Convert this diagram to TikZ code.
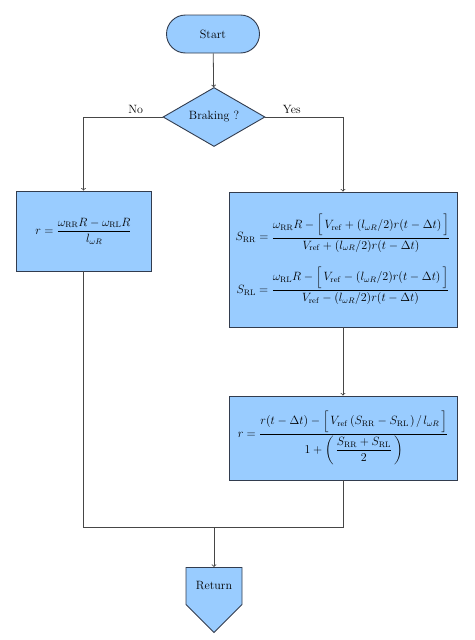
\documentclass[tikz,border=0pt]{standalone}
\usepackage{amsmath}
\usetikzlibrary{shapes.geometric,shapes.symbols}

\definecolor{boxfill}{RGB}{153,204,255}
\definecolor{boxline}{RGB}{50,60,78}
\definecolor{wire}{RGB}{70,70,70}

\tikzset{
    block/.style={draw=boxline, fill=boxfill, line width=0.9pt, align=center, inner sep=2pt},
    terminal/.style={block, rounded corners=19pt, minimum width=93pt, minimum height=38pt},
    decision/.style={block, diamond, aspect=1.75, minimum width=102pt, minimum height=59pt, inner sep=0pt},
    process/.style={block, rectangle},
    exit/.style={block, signal, signal to=south, signal pointer angle=90, minimum width=56pt, minimum height=56pt, inner sep=1pt},
    wire/.style={draw=wire, line width=0.8pt},
    flow/.style={wire, ->}
}

\begin{document}
\begin{tikzpicture}[x=1pt, y=-1pt, font=\fontsize{12}{14.4}\selectfont]
    \useasboundingbox (0,0) rectangle (474,640);

    % Start and the decision
    \node[terminal] (start) at (213,34) {Start};
    \node[decision] (brake) at (214,117) {Braking ?};

    % Left branch
    \node[process, minimum width=135pt, minimum height=80pt] (yaw) at (83.5,231)
        {$r = \dfrac{\omega_{\mathrm{RR}}R - \omega_{\mathrm{RL}}R}{l_{\omega R}}$};

    % Right branch: slip ratios
    \node[process, minimum width=228pt, minimum height=135pt] (slip) at (343,259.5)
        {$S_{\mathrm{RR}} = \dfrac{\omega_{\mathrm{RR}}R - \Bigl[\,V_{\mathrm{ref}} + (l_{\omega R}/2)r(t-\Delta t)\,\Bigr]}{V_{\mathrm{ref}} + (l_{\omega R}/2)r(t-\Delta t)}$\\[14pt]
         $S_{\mathrm{RL}} = \dfrac{\omega_{\mathrm{RL}}R - \Bigl[\,V_{\mathrm{ref}} - (l_{\omega R}/2)r(t-\Delta t)\,\Bigr]}{V_{\mathrm{ref}} - (l_{\omega R}/2)r(t-\Delta t)}$};

    % Right branch: yaw rate
    \node[process, minimum width=228pt, minimum height=84pt] (rate) at (343,438)
        {$r = \dfrac{r(t-\Delta t) - \Bigl[\,V_{\mathrm{ref}}\,(S_{\mathrm{RR}} - S_{\mathrm{RL}}\mkern2mu)\mkern2mu/\mkern2mu l_{\omega R}\,\Bigr]}{1 + \left(\,\dfrac{S_{\mathrm{RR}} + S_{\mathrm{RL}}}{2}\,\right)}$};

    % Return
    \node[exit, anchor=north] (ret) at (214,567) {Return};
    \coordinate (join) at (214,527);

    % Connectors
    \draw[flow] (start) -- (brake);
    \draw[flow] (brake.west) -| node[pos=0.17, above] {No} (yaw.north);
    \draw[flow] (brake.east) -| node[pos=0.17, above] {Yes} (slip.north);
    \draw[flow] (slip) -- (rate);
    \draw[wire] (yaw.south) |- (join);
    \draw[wire] (rate.south) |- (join);
    \draw[flow] (join) -- (ret.north);
\end{tikzpicture}
\end{document}
